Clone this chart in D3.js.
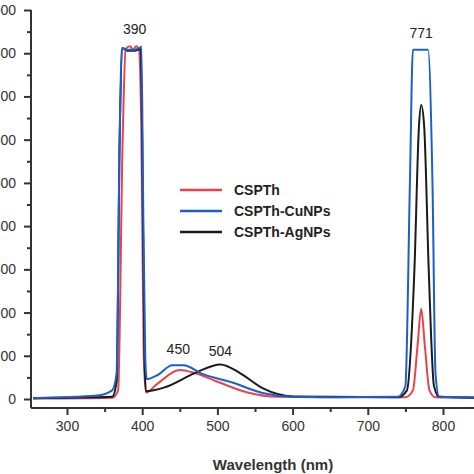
<!DOCTYPE html><html><head><meta charset="utf-8"><script src="https://cdn.jsdelivr.net/npm/d3@7"></script>
<style>body{margin:0;background:#fff}text{font-family:Arial,"Liberation Sans",sans-serif}</style></head><body>
<svg id="c" width="474" height="474"></svg>
<script>
const seriesNames=["CSPTh","CSPTh-CuNPs","CSPTh-AgNPs"];
const seriesColors=["#e8434b","#1a5fd0","#1a1a1a"];
const redX=[255,360,368,374,378,384,388,392,396,399,402,405,420,450,470,500,540,580,650,750,760,766,771,776,782,790,845];
const redY=[1,3,20,600,810,816,808,816,805,600,100,15,35,67,60,40,15,5,4,4,20,120,209,120,20,4,3];
const blueX=[255,340,360,366,370,373,380,390,396,399,401,404,406,420,440,455,480,520,560,600,650,740,750,756,760,780,786,790,795,845];
const blueY=[2,8,20,60,600,812,808,808,812,815,500,100,46,55,78,78,58,38,14,5,4,5,30,500,808,808,500,60,5,4];
const blackX=[255,360,366,370,374,380,390,398,400,403,405,430,470,504,530,560,600,740,752,762,768,771,775,781,788,795,845];
const blackY=[2,5,40,600,812,806,806,810,600,100,18,27,60,80,60,25,6,4,20,300,630,680,630,300,30,5,3];
const xTicks=[300,400,500,600,700,800];
const yTicks=[0,100,200,300,400,500,600,700,800,900];
const peakLabels=[["390",390,845],["771",771,835],["450",448,105],["504",504,100]];

const svg=d3.select("#c");
const x=d3.scaleLinear().domain([300,800]).range([67,443]);
const y=d3.scaleLinear().domain([0,900]).range([399,10]);
const xmin=x.invert(31), xmax=x.invert(474), ybot=408;
const ax=svg.append("g").attr("transform",`translate(0,${ybot})`)
 .call(d3.axisBottom(x).tickValues(xTicks).tickSize(7).tickPadding(6).tickFormat(d3.format("d")));
ax.select(".domain").attr("d",`M31,0H474`);
svg.append("g").attr("transform",`translate(0,${ybot})`).call(d3.axisBottom(x).tickValues(d3.range(250,900,50).filter(v=>v%100&&v>xmin)).tickSize(4).tickFormat("")).select(".domain").remove();
const ay=svg.append("g").attr("transform","translate(31,0)")
 .call(d3.axisLeft(y).tickValues(yTicks).tickSize(7).tickPadding(8).tickFormat(d3.format("d")));
ay.select(".domain").attr("d",`M0,${ybot}V10`);
svg.append("g").attr("transform","translate(31,0)").call(d3.axisLeft(y).tickValues(d3.range(50,900,100)).tickSize(4).tickFormat("")).select(".domain").remove();
svg.selectAll(".tick text").attr("font-size",14).attr("fill","#333");
svg.selectAll(".domain,.tick line").attr("stroke","#333").attr("stroke-width",2);

const data=[[redX,redY],[blueX,blueY],[blackX,blackY]];
const line=d3.line().x(d=>x(d[0])).y(d=>y(d[1])).curve(d3.curveMonotoneX);
[0,2,1].forEach(i=>{
 const pts=data[i][0].map((v,j)=>[v,data[i][1][j]]);
 svg.append("path").attr("d",line(pts)).attr("fill","none").attr("stroke",seriesColors[i]).attr("stroke-width",2);
});
peakLabels.forEach(p=>svg.append("text").attr("x",x(p[1])).attr("y",y(p[2])).attr("text-anchor","middle").attr("font-size",14).attr("fill","#222").text(p[0]));
seriesNames.forEach((n,i)=>{
 const yy=190+i*21;
 svg.append("line").attr("x1",180).attr("x2",222).attr("y1",yy).attr("y2",yy).attr("stroke",seriesColors[i]).attr("stroke-width",2.5);
 svg.append("text").attr("x",234).attr("y",yy+5).attr("font-size",14).attr("font-weight","bold").attr("fill","#222").text(n);
});
svg.append("text").attr("x",273).attr("y",470).attr("text-anchor","middle").attr("font-size",15).attr("font-weight","bold").attr("fill","#333").text("Wavelength (nm)");
</script></body></html>
